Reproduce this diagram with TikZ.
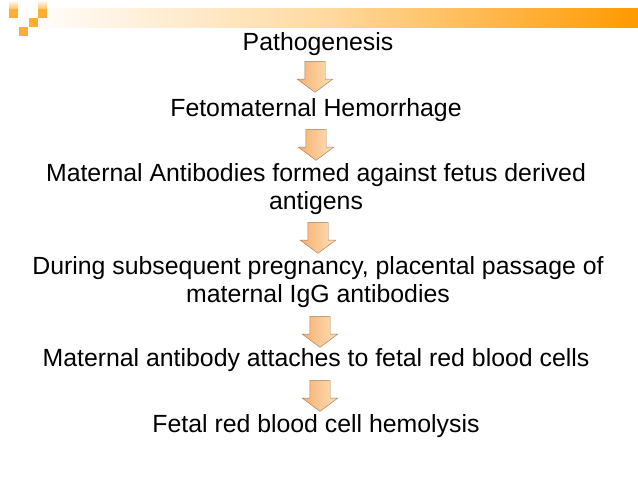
\documentclass[tikz,border=0pt]{standalone}
\usepackage{fontspec}
\setmainfont{Liberation Sans}
\usetikzlibrary{shapes.arrows}
\definecolor{barorange}{HTML}{FF9900}
\definecolor{paleorange}{HTML}{FFD9A0}
\definecolor{arrowtop}{HTML}{FCE0B8}
\definecolor{arrowbot}{HTML}{F8B070}
\tikzset{
  steptext/.style={align=center,font=\fontsize{21.2}{24.5}\selectfont},
  downarrow/.style={single arrow,draw=gray!70!orange,thin,rotate=-90,
    top color=arrowtop,bottom color=arrowbot,shading angle=-90,
    inner xsep=0pt,inner ysep=10*0.03cm,minimum height=31*0.03cm,
    single arrow head extend=7.5*0.03cm,single arrow tip angle=107},
  sq/.style={fill=barorange!80}
}
\begin{document}
\begin{tikzpicture}[x=0.03cm,y=-0.03cm]
\useasboundingbox (0,0) rectangle (638,478);
% top bar
\shade[left color=white,right color=barorange,middle color=paleorange] (20,9) rectangle (638,28);
\shade[top color=white,bottom color=barorange!60] (9,0) rectangle (18,9);
\shade[top color=white,bottom color=barorange!60] (38,0) rectangle (47,9);
\fill[sq] (9,9) rectangle (18,18);
\fill[sq] (38,9) rectangle (47,18);
\fill[sq] (29,18) rectangle (38,27);
\fill[sq] (19,27) rectangle (28,36);
% steps
\node[steptext] (patho) at (318,44) {Pathogenesis};
\node[steptext] (fmh) at (316,110) {Fetomaternal Hemorrhage};
\node[steptext] (abform) at (316,189) {Maternal Antibodies formed against fetus derived\\antigens};
\node[steptext] (igg) at (318,282) {During subsequent pregnancy, placental passage of\\maternal IgG antibodies};
\node[steptext] (attach) at (316,360) {Maternal antibody attaches to fetal red blood cells};
\node[steptext] (hemo) at (316,426) {Fetal red blood cell hemolysis};
% arrows
\node[downarrow] (a1) at (315,73) {};
\node[downarrow] (a2) at (316,141) {};
\node[downarrow] (a3) at (318,234) {};
\node[downarrow] (a4) at (320,328) {};
\node[downarrow] (a5) at (320,392) {};
\end{tikzpicture}
\end{document}
